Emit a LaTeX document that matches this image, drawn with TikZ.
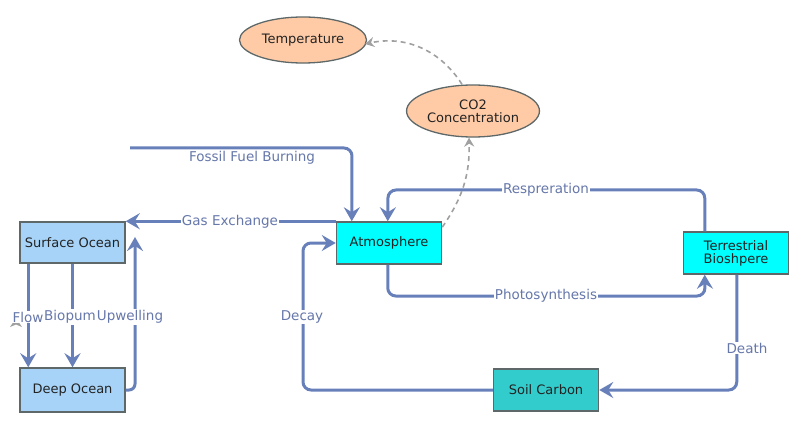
\documentclass[tikz,border=0pt]{standalone}
\usepackage{fontspec}
\setmainfont{DejaVu Sans}
\usetikzlibrary{arrows.meta,shapes.geometric,calc}
\definecolor{flowcol}{HTML}{6880BA}
\definecolor{lblcol}{HTML}{6677AA}
\definecolor{bordercol}{HTML}{5F6868}
\definecolor{oceanfill}{HTML}{A6D3F7}
\definecolor{cyanfill}{HTML}{00FFFF}
\definecolor{soilfill}{HTML}{33CCCC}
\definecolor{peach}{HTML}{FFCBA6}
\definecolor{dashcol}{HTML}{A0A0A0}
\definecolor{txtcol}{HTML}{222222}
\tikzset{
  box/.style={draw=bordercol, line width=1.5pt, minimum width=105pt, minimum height=42pt,
    inner sep=2pt, text=txtcol, font=\fontsize{13}{15}\selectfont, align=center},
  ell/.style={ellipse, draw=bordercol, line width=1.3pt, fill=peach, inner sep=1pt,
    text=txtcol, font=\fontsize{13}{15}\selectfont, align=center},
  flow/.style={draw=flowcol, line width=3pt, rounded corners=8pt,
    -{Stealth[length=14pt,width=16pt,inset=5pt]}},
  lbl/.style={fill=white, text=lblcol, inner sep=1pt, font=\fontsize{13.5}{15}\selectfont},
  dashflow/.style={draw=dashcol, line width=1.6pt, dash pattern=on 5pt off 4pt,
    -{Stealth[length=9pt,width=10pt,inset=3pt]}}
}
\begin{document}
\begin{tikzpicture}[x=1pt,y=-1pt]
\useasboundingbox (0,0) rectangle (800,422);
\fill[white] (0,0) rectangle (800,422);

% nodes
\node[box, fill=oceanfill, minimum height=41pt] (so) at (72.5,242.5) {Surface Ocean};
\node[box, fill=oceanfill, minimum height=44pt] (do) at (72.5,390) {Deep Ocean};
\node[box, fill=cyanfill] (atm) at (389,243) {Atmosphere};
\node[box, fill=cyanfill] (tb) at (736,253) {Terrestrial\\[-2pt]Bioshpere};
\node[box, fill=soilfill] (sc) at (546,390) {Soil Carbon};
\node[ell, minimum width=127pt, minimum height=46pt] (temp) at (303,40) {Temperature};
\node[ell, minimum width=128pt, minimum height=52pt] (co2) at (473,111) {CO2\\[-2pt]Concentration};

% free ends and corners
\coordinate (ffstart) at (130,148);
\coordinate (ffcorner) at (352,148);
\coordinate (rescorner) at (388,190);
\coordinate (phocorner) at (705,296);
\coordinate (decaycorner) at (303,243);
\coordinate (uwend) at (135,237);

% connectors
\draw[flow] (ffstart) -- (ffcorner) -- ([xshift=16pt]atm.north west);
\draw[flow] (atm.north west) -- (so.north east);
\draw[flow] ([xshift=22pt]tb.north west) |- (rescorner) -- ([xshift=52pt]atm.north west);
\draw[flow] ([xshift=52pt]atm.south west) |- (phocorner) -- ([xshift=22pt]tb.south west);
\draw[flow] ([xshift=54pt]tb.south west) |- (sc.east);
\draw[flow] (sc.west) -| (decaycorner) -- (atm.west);
\draw[flow, rounded corners=6pt] (do.east) -| (uwend);
\draw[flow] ([xshift=9pt]so.south west) -- ([xshift=9pt]do.north west);
\draw[flow] (so.south) -- (do.north);

\draw[dashflow] ([yshift=-6pt]atm.north east) to[bend right=18] ([xshift=-4pt]co2.south);
\draw[dashflow] ([xshift=-11pt]co2.north) to[bend right=35] ([xshift=-2pt,yshift=-4pt]temp.east);

% stray grey tip
\fill[dashcol] (16,318) -- (22,327) -- (16,324.5) -- (10,327) -- cycle;

% labels
\node[lbl] (lff) at (252,158) {Fossil Fuel Burning};
\node[lbl] (lgas) at (230,222) {Gas Exchange};
\node[lbl] (lres) at (546,190) {Respreration};
\node[lbl] (lpho) at (546,296) {Photosynthesis};
\node[lbl] (ldeath) at (747,348) {Death};
\node[lbl] (ldecay) at (302,317) {Decay};
\node[lbl] (lflow) at (28,317) {Flow};
\node[lbl] (lbio) at (70,317) {Biopum};
\node[lbl] (luw) at (130,317) {Upwelling};
\end{tikzpicture}
\end{document}
